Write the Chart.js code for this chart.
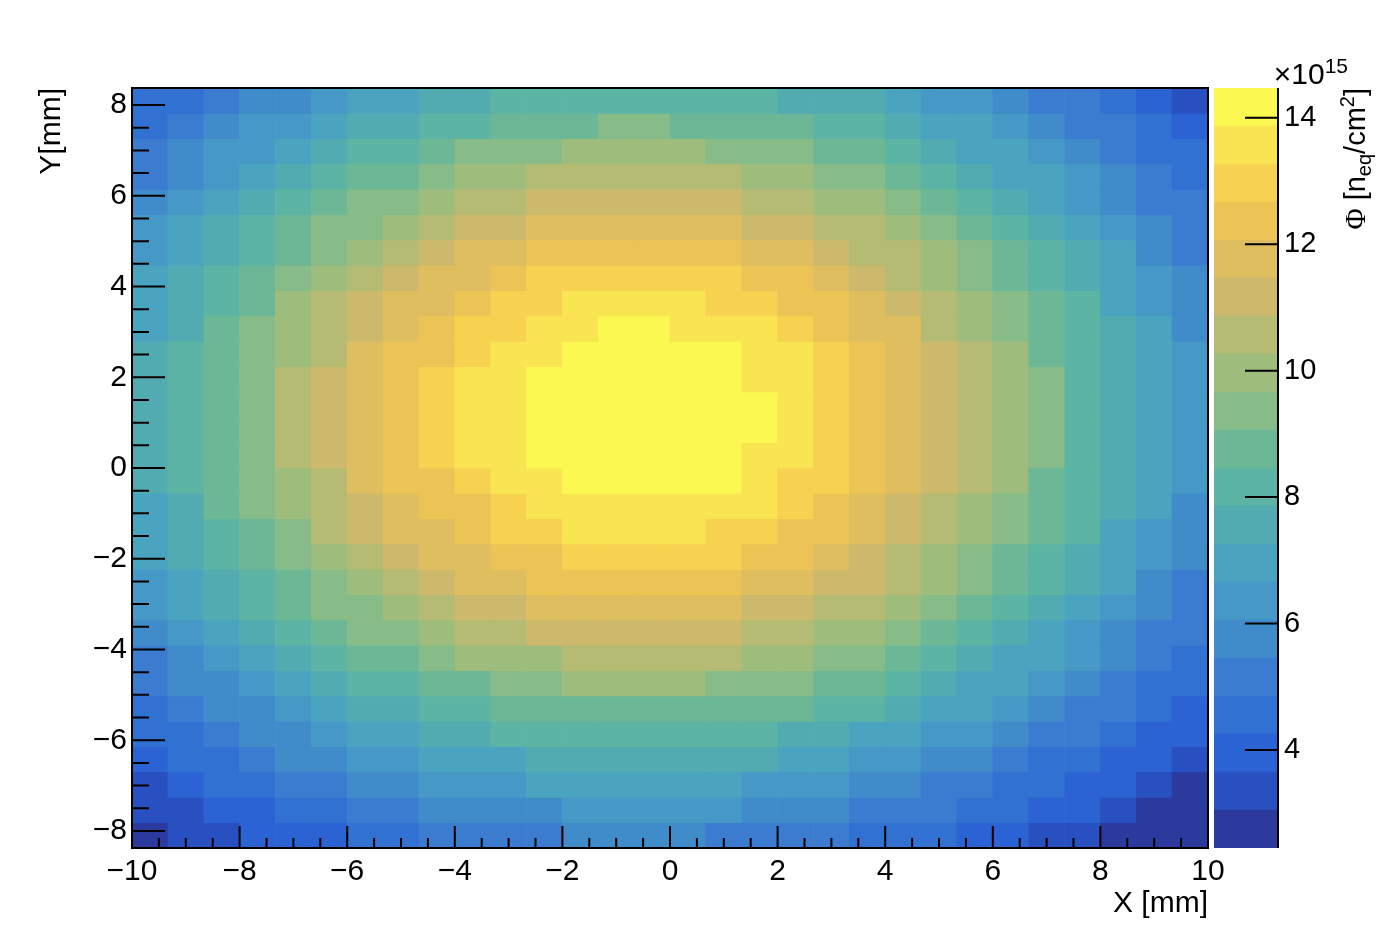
<!DOCTYPE html>
<html lang="en">
<head>
<meta charset="UTF-8">
<title>Fluence map</title>
<script src="https://cdn.jsdelivr.net/npm/chart.js"></script>
<style>
    html, body { margin: 0; padding: 0; background: #fff; }
    body { position: relative; width: 1386px; height: 942px; overflow: hidden; font-family: "Liberation Sans", sans-serif; color: #000; }
    canvas { position: absolute; }
    #mapChart { left: 0; top: 0; }
    #paletteChart { left: 1214px; top: 0; }
    .label { position: absolute; white-space: nowrap; }
    #exponent { right: 38px; top: 57px; font-size: 30px; line-height: 34px; }
    #exponent sup { font-size: 21px; line-height: 0; vertical-align: 11px; }
    #zTitle { left: 1355px; top: 88px; font-size: 29px; line-height: 30px; transform-origin: 0 0; transform: rotate(-90deg) translate(-100%, -50%); }
    #zTitle .phi { font-family: "Liberation Serif", serif; }
    #zTitle sub { font-size: 20px; line-height: 0; vertical-align: -6px; }
    #zTitle sup { font-size: 20px; line-height: 0; vertical-align: 11px; }
</style>
</head>
<body>
<canvas id="mapChart" width="1386" height="942"></canvas>
<canvas id="paletteChart" width="172" height="942"></canvas>
<div class="label" id="exponent">×10<sup>15</sup></div>
<div class="label" id="zTitle"><span class="phi">Φ</span> [n<sub>eq</sub>/cm<sup>2</sup>]</div>
<script>
// axis ranges in mm, and colour range in units of 1e15
const xRange = [-10, 10];
const yRange = [-8.375, 8.375];
const zRange = [2.45, 14.47];

const xTicks = [-10, -8, -6, -4, -2, 0, 2, 4, 6, 8, 10];
const yTicks = [-8, -6, -4, -2, 0, 2, 4, 6, 8];
const zTicks = [4, 6, 8, 10, 12, 14];
const minorStep = 0.5;

// bottom to top, one colour per contour
const palette = [
    '#2c3a9e', '#2850c0', '#2b62d4', '#3071d2', '#3b7cd0', '#408cca', '#4699c6', '#4aa4c0', '#53abb2', '#5cb4a4',
    '#6cb796', '#87bc88', '#9ebc7c', '#b5bb72', '#ccb96c', '#dfbe60', '#ecc455', '#f6d250', '#f9e552', '#fbf951'
];

// Phi per bin (1e15 n_eq/cm2), first row is the top of the map
const fluence = [
    [4.6,4.6,5.2,5.8,5.8,6.4,7,7,7.6,7.6,8.2,8.2,8.2,8.2,8.2,8.2,8.2,8.2,7.6,7.6,7.6,7,6.4,6.4,5.8,5.2,5.2,4.6,4,3.4],
    [4.6,5.2,5.8,6.4,6.4,7,7.6,7.6,8.2,8.2,8.8,8.8,8.8,9.4,9.4,8.8,8.8,8.8,8.8,8.2,8.2,7.6,7,7,6.4,5.8,5.2,5.2,4.6,4],
    [5.2,5.8,6.4,6.4,7,7.6,8.2,8.2,8.8,9.4,9.4,9.4,10,10,10,10,9.4,9.4,9.4,8.8,8.8,8.2,7.6,7,7,6.4,5.8,5.2,4.6,4.6],
    [5.2,5.8,6.4,7,7.6,8.2,8.8,8.8,9.4,10,10,10.6,10.6,10.6,10.6,10.6,10.6,10,10,9.4,9.4,8.8,8.2,7.6,7,7,6.4,5.8,5.2,4.6],
    [5.8,6.4,7,7.6,8.2,8.8,9.4,9.4,10,10.6,10.6,11.2,11.2,11.2,11.2,11.2,11.2,10.6,10.6,10,10,9.4,8.8,8.2,7.6,7,6.4,5.8,5.2,5.2],
    [6.4,7,7.6,8.2,8.8,9.4,9.4,10,10.6,11.2,11.2,11.8,11.8,11.8,11.8,11.8,11.8,11.2,11.2,10.6,10.6,10,9.4,8.8,8.2,7.6,7,6.4,5.8,5.2],
    [6.4,7,7.6,8.2,8.8,9.4,10,10.6,11.2,11.8,11.8,12.4,12.4,12.4,12.4,12.4,12.4,11.8,11.8,11.2,10.6,10.6,10,9.4,8.8,8.2,7.6,7,5.8,5.2],
    [7,7.6,8.2,8.8,9.4,10,10.6,11.2,11.8,11.8,12.4,13,13,13,13,13,13,12.4,12.4,11.8,11.2,10.6,10,9.4,8.8,8.2,7.6,7,6.4,5.8],
    [7,7.6,8.2,8.8,10,10.6,11.2,11.8,11.8,12.4,13,13,13.6,13.6,13.6,13.6,13,13,12.4,12.4,11.8,11.2,10.6,10,9.4,8.8,8.2,7,6.4,5.8],
    [7,7.6,8.8,9.4,10,10.6,11.2,11.8,12.4,13,13,13.6,13.6,14.2,14.2,13.6,13.6,13.6,13,12.4,11.8,11.8,10.6,10,9.4,8.8,8.2,7.6,7,5.8],
    [7.6,8.2,8.8,9.4,10,10.6,11.8,12.4,12.4,13,13.6,13.6,14.2,14.2,14.2,14.2,14.2,13.6,13.6,13,12.4,11.8,11.2,10.6,10,8.8,8.2,7.6,7,6.4],
    [7.6,8.2,8.8,9.4,10.6,11.2,11.8,12.4,13,13.6,13.6,14.2,14.2,14.2,14.2,14.2,14.2,13.6,13.6,13,12.4,11.8,11.2,10.6,10,9.4,8.2,7.6,7,6.4],
    [7.6,8.2,8.8,9.4,10.6,11.2,11.8,12.4,13,13.6,13.6,14.2,14.2,14.2,14.2,14.2,14.2,14.2,13.6,13,12.4,11.8,11.2,10.6,10,9.4,8.2,7.6,7,6.4],
    [7.6,8.2,8.8,9.4,10.6,11.2,11.8,12.4,13,13.6,13.6,14.2,14.2,14.2,14.2,14.2,14.2,14.2,13.6,13,12.4,11.8,11.2,10.6,10,9.4,8.2,7.6,7,6.4],
    [7.6,8.2,8.8,9.4,10.6,11.2,11.8,12.4,13,13.6,13.6,14.2,14.2,14.2,14.2,14.2,14.2,13.6,13.6,13,12.4,11.8,11.2,10.6,10,9.4,8.2,7.6,7,6.4],
    [7.6,8.2,8.8,9.4,10,10.6,11.8,12.4,12.4,13,13.6,13.6,14.2,14.2,14.2,14.2,14.2,13.6,13,13,12.4,11.8,11.2,10.6,10,8.8,8.2,7.6,7,6.4],
    [7,7.6,8.8,9.4,10,10.6,11.2,11.8,12.4,12.4,13,13.6,13.6,13.6,13.6,13.6,13.6,13.6,13,12.4,11.8,11.2,10.6,10,9.4,8.8,8.2,7.6,7,5.8],
    [7,7.6,8.2,8.8,9.4,10.6,11.2,11.8,11.8,12.4,13,13,13.6,13.6,13.6,13.6,13,13,12.4,12.4,11.8,11.2,10.6,10,9.4,8.8,8.2,7,6.4,5.8],
    [7,7.6,8.2,8.8,9.4,10,10.6,11.2,11.8,11.8,12.4,12.4,13,13,13,13,13,12.4,12.4,11.8,11.2,10.6,10,9.4,8.8,8.2,7.6,7,6.4,5.8],
    [6.4,7,7.6,8.2,8.8,9.4,10,10.6,11.2,11.8,11.8,12.4,12.4,12.4,12.4,12.4,12.4,11.8,11.8,11.2,11.2,10.6,10,9.4,8.8,8.2,7.6,7,5.8,5.2],
    [6.4,7,7.6,8.2,8.8,9.4,9.4,10,10.6,11.2,11.2,11.8,11.8,11.8,11.8,11.8,11.8,11.2,11.2,10.6,10.6,10,9.4,8.8,8.2,7.6,7,6.4,5.8,5.2],
    [5.8,6.4,7,7.6,8.2,8.8,9.4,9.4,10,10.6,10.6,11.2,11.2,11.2,11.2,11.2,11.2,10.6,10.6,10,10,9.4,8.8,8.2,7.6,7,6.4,5.8,5.2,5.2],
    [5.2,5.8,6.4,7,7.6,8.2,8.8,8.8,9.4,10,10,10,10.6,10.6,10.6,10.6,10.6,10,10,9.4,9.4,8.8,8.2,7.6,7,7,6.4,5.8,5.2,4.6],
    [5.2,5.8,5.8,6.4,7,7.6,8.2,8.2,8.8,8.8,9.4,9.4,10,10,10,10,9.4,9.4,9.4,8.8,8.8,8.2,7.6,7,7,6.4,5.8,5.2,4.6,4.6],
    [4.6,5.2,5.8,5.8,6.4,7,7.6,7.6,8.2,8.2,8.8,8.8,8.8,8.8,8.8,8.8,8.8,8.8,8.8,8.2,8.2,7.6,7,7,6.4,5.8,5.2,5.2,4.6,4],
    [4.6,4.6,5.2,5.8,5.8,6.4,7,7,7.6,7.6,8.2,8.2,8.2,8.2,8.2,8.2,8.2,8.2,7.6,7.6,7,7,6.4,6.4,5.8,5.2,5.2,4.6,4,4],
    [4,4.6,4.6,5.2,5.8,5.8,6.4,6.4,7,7,7,7.6,7.6,7.6,7.6,7.6,7.6,7.6,7,7,6.4,6.4,5.8,5.8,5.2,4.6,4.6,4,4,3.4],
    [3.4,4,4.6,4.6,5.2,5.2,5.8,5.8,6.4,6.4,6.4,7,7,7,7,7,7,6.4,6.4,6.4,5.8,5.8,5.2,5.2,4.6,4.6,4,4,3.4,2.8],
    [3.4,3.4,4,4,4.6,4.6,5.2,5.2,5.8,5.8,5.8,5.8,6.4,6.4,6.4,6.4,6.4,5.8,5.8,5.8,5.2,5.2,5.2,4.6,4.6,4,4,3.4,2.8,2.8],
    [2.8,3.4,3.4,4,4,4,4.6,4.6,5.2,5.2,5.2,5.2,5.8,5.8,5.8,5.8,5.2,5.2,5.2,5.2,4.6,4.6,4.6,4,4,3.4,3.4,2.8,2.8,2.8]
];

const FONT = '"Liberation Sans", sans-serif';
const levelStep = (zRange[1] - zRange[0]) / palette.length;

function colourFor(v) {
    const i = Math.floor((v - zRange[0]) / levelStep);
    return palette[Math.min(palette.length - 1, Math.max(0, i))];
}

// ROOT style minus sign on the tick labels
function rootLabel(v) {
    return String(v).replace('-', '\u2212');
}

function fixedTicks(values) {
    return scale => { scale.ticks = values.map(v => ({ value: v })); };
}

// every row of the map is one dataset of floating bars
const nCols = fluence[0].length;
const nRows = fluence.length;
const binW = (xRange[1] - xRange[0]) / nCols;
const binH = (yRange[1] - yRange[0]) / nRows;
const mapDatasets = fluence.map((row, r) => {
    const top = yRange[1] - r * binH;
    return {
        data: row.map((v, c) => ({ x: xRange[0] + (c + 0.5) * binW, y: [top - binH, top] })),
        backgroundColor: row.map(colourFor),
        borderWidth: 0,
        grouped: false,
        barPercentage: 1,
        categoryPercentage: 1
    };
});

function tickRange(lo, hi) {
    const out = [];
    for (let i = Math.ceil(lo / minorStep); i * minorStep <= hi; i++) out.push(i * minorStep);
    return out;
}

// ticks point into the frame like in ROOT, so they are drawn over the bars
const rootFrame = {
    id: 'rootFrame',
    afterDatasetsDraw(chart) {
        const { ctx, chartArea: a, scales } = chart;
        ctx.save();
        ctx.strokeStyle = '#000';
        ctx.lineWidth = 2;
        ctx.beginPath();
        tickRange(xRange[0], xRange[1]).forEach(v => {
            const px = scales.x.getPixelForValue(v);
            const len = xTicks.includes(v) ? 22 : 10;
            ctx.moveTo(px, a.bottom);
            ctx.lineTo(px, a.bottom - len);
        });
        tickRange(yRange[0], yRange[1]).forEach(v => {
            const py = scales.y.getPixelForValue(v);
            const len = yTicks.includes(v) ? 33 : 17;
            ctx.moveTo(a.left, py);
            ctx.lineTo(a.left + len, py);
        });
        ctx.rect(a.left, a.top, a.right - a.left, a.bottom - a.top);
        ctx.stroke();
        ctx.restore();
    }
};

new Chart(document.getElementById('mapChart'), {
    type: 'bar',
    data: { datasets: mapDatasets },
    plugins: [rootFrame],
    options: {
        responsive: false,
        animation: false,
        layout: { padding: { left: 34, top: 88, right: 178, bottom: 20 } },
        plugins: { legend: { display: false }, tooltip: { enabled: false } },
        scales: {
            x: {
                type: 'linear',
                offset: false,
                min: xRange[0],
                max: xRange[1],
                grid: { display: false, drawTicks: false },
                border: { display: false },
                afterBuildTicks: fixedTicks(xTicks),
                afterFit: s => { s.height = 74; },
                ticks: {
                    autoSkip: false, maxRotation: 0, padding: 6, color: '#000',
                    font: { family: FONT, size: 30 }, callback: rootLabel
                },
                title: {
                    display: true, text: 'X [mm]', align: 'end', color: '#000', padding: 0,
                    font: { family: FONT, size: 30 }
                }
            },
            y: {
                type: 'linear',
                min: yRange[0],
                max: yRange[1],
                grid: { display: false, drawTicks: false },
                border: { display: false },
                afterBuildTicks: fixedTicks(yTicks),
                afterFit: s => { s.width = 98; },
                ticks: {
                    autoSkip: false, padding: 5, color: '#000',
                    font: { family: FONT, size: 30 }, callback: rootLabel
                },
                title: {
                    display: true, text: 'Y[mm]', align: 'end', color: '#000', padding: 0,
                    font: { family: FONT, size: 30 }
                }
            }
        }
    }
});

// colour bar: one floating bar per contour level
const paletteDatasets = palette.map((c, i) => ({
    data: [[zRange[0] + i * levelStep, zRange[0] + (i + 1) * levelStep]],
    backgroundColor: c,
    borderWidth: 0,
    grouped: false,
    barPercentage: 1,
    categoryPercentage: 1
}));

const paletteAxis = {
    id: 'paletteAxis',
    afterDatasetsDraw(chart) {
        const { ctx, chartArea: a, scales } = chart;
        ctx.save();
        ctx.strokeStyle = '#000';
        ctx.lineWidth = 2;
        ctx.beginPath();
        ctx.moveTo(a.right, a.top);
        ctx.lineTo(a.right, a.bottom);
        zTicks.forEach(v => {
            const py = scales.y.getPixelForValue(v);
            ctx.moveTo(a.right, py);
            ctx.lineTo(a.right - 33, py);
        });
        ctx.stroke();
        ctx.restore();
    }
};

new Chart(document.getElementById('paletteChart'), {
    type: 'bar',
    data: { labels: [''], datasets: paletteDatasets },
    plugins: [paletteAxis],
    options: {
        responsive: false,
        animation: false,
        layout: { padding: { top: 88, bottom: 94, right: 0 } },
        plugins: { legend: { display: false }, tooltip: { enabled: false } },
        scales: {
            x: { display: false },
            y: {
                position: 'right',
                min: zRange[0],
                max: zRange[1],
                grid: { display: false, drawTicks: false },
                border: { display: false },
                afterBuildTicks: fixedTicks(zTicks),
                afterFit: s => { s.width = 108; },
                ticks: {
                    autoSkip: false, padding: 6, color: '#000',
                    font: { family: FONT, size: 29 }, callback: rootLabel
                }
            }
        }
    }
});
</script>
</body>
</html>
